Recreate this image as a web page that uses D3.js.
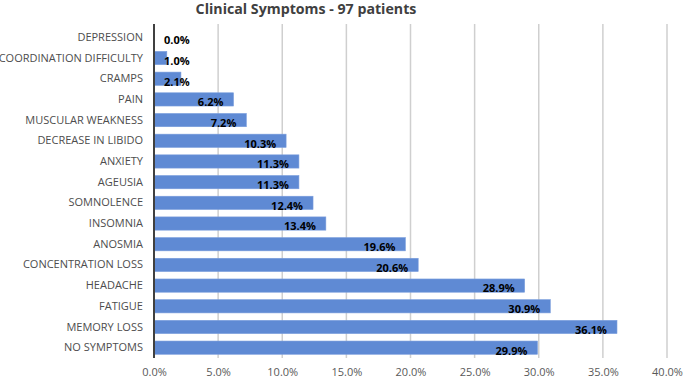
<!DOCTYPE html>
<html lang="en">
<head>
    <meta charset="UTF-8">
    <title>Clinical Symptoms</title>
    <script src="https://cdnjs.cloudflare.com/ajax/libs/d3/7.8.5/d3.min.js"></script>
    <style>
        body { margin: 0; background: #fff; }
        text { font-family: "Open Sans", sans-serif; }
    </style>
</head>
<body>
    <svg width="685" height="378"></svg>
    <script>
        "use strict";

        const symptoms = ["DEPRESSION", "COORDINATION DIFFICULTY", "CRAMPS", "PAIN", "MUSCULAR WEAKNESS",
            "DECREASE IN LIBIDO", "ANXIETY", "AGEUSIA", "SOMNOLENCE", "INSOMNIA", "ANOSMIA",
            "CONCENTRATION LOSS", "HEADACHE", "FATIGUE", "MEMORY LOSS", "NO SYMPTOMS"];
        const percents = [0.0, 1.0, 2.1, 6.2, 7.2, 10.3, 11.3, 11.3, 12.4, 13.4, 19.6, 20.6, 28.9, 30.9, 36.1, 29.9];
        const ticks = [0, 5, 10, 15, 20, 25, 30, 35, 40];

        const svg = d3.select("svg");
        const plotLeft = 154, plotRight = 667, plotTop = 27, plotBottom = 358;

        const x = d3.scaleLinear().domain([0, 40]).range([plotLeft, plotRight]);
        const y = d3.scaleBand().domain(symptoms).range([plotTop, plotBottom]).paddingInner(0.36).paddingOuter(0.18);

        // title
        svg.append("text")
            .attr("x", 306).attr("y", 14)
            .attr("text-anchor", "middle")
            .attr("font-size", 14.2).attr("font-weight", "bold")
            .attr("fill", "#404040")
            .text("Clinical Symptoms - 97 patients");

        // grid
        svg.append("g").selectAll("line")
            .data(ticks.slice(1))
            .enter().append("line")
            .attr("x1", d => x(d)).attr("x2", d => x(d))
            .attr("y1", 24).attr("y2", plotBottom)
            .attr("stroke", "#cfcfcf").attr("stroke-width", 1.5);

        // x axis labels
        const xAxis = d3.axisBottom(x).tickValues(ticks).tickFormat(d => d.toFixed(1) + "%").tickSize(0).tickPadding(10);
        const gx = svg.append("g").attr("transform", `translate(0,${plotBottom})`).call(xAxis);
        gx.select(".domain").remove();
        gx.selectAll("text").attr("font-size", 11).attr("fill", "#595959").attr("font-family", "Open Sans, sans-serif");

        // bars
        svg.append("g").selectAll("rect")
            .data(percents)
            .enter().append("rect")
            .attr("x", x(0))
            .attr("y", (d, i) => y(symptoms[i]))
            .attr("width", d => x(d) - x(0))
            .attr("height", y.bandwidth())
            .attr("fill", "#5f8ad4")
            .attr("stroke", "#7a9ddc").attr("stroke-width", 0.6);

        // y axis
        const yAxis = d3.axisLeft(y).tickSize(0).tickPadding(11);
        const gy = svg.append("g").attr("transform", `translate(${plotLeft},0)`).call(yAxis);
        gy.select(".domain").remove();
        gy.selectAll("text").attr("font-size", 11).attr("fill", "#4d4d4d").attr("font-family", "Open Sans, sans-serif");

        svg.append("line")
            .attr("x1", plotLeft).attr("x2", plotLeft)
            .attr("y1", 24).attr("y2", plotBottom)
            .attr("stroke", "#404040").attr("stroke-width", 2);

        // value labels
        svg.append("g").selectAll("text")
            .data(percents)
            .enter().append("text")
            .attr("y", (d, i) => y(symptoms[i]) + y.bandwidth() / 2 + 3)
            .attr("dy", "0.35em")
            .attr("text-anchor", "end")
            .attr("font-size", 11).attr("font-weight", "bold")
            .attr("fill", "#000")
            .text(d => d.toFixed(1) + "%")
            .attr("x", function(d) {
                const w = this.getComputedTextLength();
                return Math.max(x(d) - 10, plotLeft + 10 + w);
            });
    </script>
</body>
</html>
